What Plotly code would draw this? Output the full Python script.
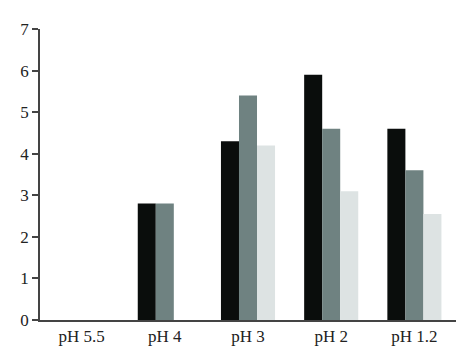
import plotly.graph_objects as go

categories = ["pH 5.5", "pH 4", "pH 3", "pH 2", "pH 1.2"]
series_a = [0, 2.8, 4.3, 5.9, 4.6]
series_b = [0, 2.8, 5.4, 4.6, 3.6]
series_c = [0, 0, 4.2, 3.1, 2.55]
colors = ["#0a0d0c", "#6f8281", "#dde3e3"]

fig = go.Figure()
for vals, col in zip([series_a, series_b, series_c], colors):
    fig.add_trace(go.Bar(x=categories, y=vals, marker=dict(color=col, line=dict(width=0)),
                         showlegend=False))

fig.update_layout(
    width=474, height=364,
    margin=dict(l=32, r=26, t=17, b=52),
    paper_bgcolor="white", plot_bgcolor="white",
    barmode="group", bargap=0.35, bargroupgap=0,
    font=dict(family="Liberation Serif, DejaVu Serif, serif", size=17, color="#222"),
    xaxis=dict(showline=True, linecolor="#444", linewidth=1.5, ticks="",
               showgrid=False, tickfont=dict(size=17)),
    yaxis=dict(range=[0, 7], dtick=1, showline=True, linecolor="#444", linewidth=1.5,
               ticks="outside", ticklen=6, tickcolor="#444", tickwidth=1.5,
               showgrid=False, zeroline=False, tickfont=dict(size=17)),
)
fig.write_html("out.html")
